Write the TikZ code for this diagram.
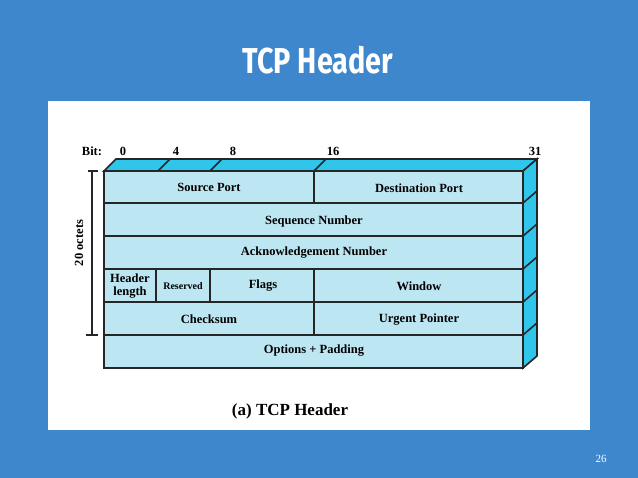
\documentclass[tikz,border=0pt]{standalone}
\usepackage{fontspec}
\setmainfont{Liberation Serif}
\newfontfamily\titlefont{Fira Sans}
\definecolor{bg}{HTML}{3F87CC}
\definecolor{frontc}{HTML}{BDE6F3}
\definecolor{sidec}{HTML}{30C5EA}
\begin{document}
\begin{tikzpicture}[x=1pt,y=-1pt,
  lbl/.style={font=\bfseries\fontsize{12.5}{13}\selectfont},
  edge/.style={draw=black!85,line width=1.6pt}]
\useasboundingbox (0,0) rectangle (638,478);
\fill[bg] (0,0) rectangle (638,478);
\fill[white] (48,101) rectangle (590,430);
\node[font=\titlefont\bfseries\fontsize{36}{38}\selectfont,text=white,xscale=0.8] (title) at (318,60) {TCP Header};
\node[font=\fontsize{11}{12}\selectfont,text=white] (pg) at (601,459) {26};
% top and side faces
\filldraw[fill=sidec,edge] (104,171) -- (116,159) -- (537,159) -- (523,171) -- cycle;
\filldraw[fill=sidec,edge] (523,171) -- (537,159) -- (537,356) -- (523,368) -- cycle;
\foreach \x in {158,210,314} \draw[edge] (\x,171) -- (\x+12,159);
\foreach \y in {203,236,269,302,335} \draw[edge] (523,\y) -- (537,\y-12);
% front
\filldraw[fill=frontc,edge] (104,171) rectangle (523,368);
\foreach \y in {203,236,269,302,335} \draw[edge] (104,\y) -- (523,\y);
\draw[edge] (314,171) -- (314,203);
\draw[edge] (314,269) -- (314,335);
\draw[edge] (156,269) -- (156,302);
\draw[edge] (210,269) -- (210,302);
% labels
\node[lbl] (sp) at (209,187) {Source Port};
\node[lbl] (dp) at (419,188) {Destination Port};
\node[lbl] (sn) at (314,221) {Sequence Number};
\node[lbl] (an) at (314,253) {Acknowledgement Number};
\node[align=center,font=\bfseries\fontsize{12.5}{13}\selectfont] (hl) at (130,286) {Header\\length};
\node[font=\bfseries\fontsize{10}{11}\selectfont] (rs) at (183,286) {Reserved};
\node[lbl] (fl) at (263,286) {Flags};
\node[lbl] (wi) at (419,286) {Window};
\node[lbl] (cs) at (209,319) {Checksum};
\node[lbl] (up) at (419,320) {Urgent Pointer};
\node[lbl] (op) at (314,351) {Options + Padding};
% bits
\node[lbl] (bit) at (92,151) {Bit:};
\foreach \x/\t in {123/0,176/4,233/8,333/16,535/31} \node[lbl] at (\x,151) {\t};
% bracket
\draw[black!85,line width=1.4pt] (92,171) -- (92,335);
\draw[black!85,line width=1.4pt] (88,171) -- (98,171);
\draw[black!85,line width=1.4pt] (86,335) -- (98,335);
\node[lbl,rotate=90] (oct) at (79,243) {20 octets};
\node[font=\bfseries\fontsize{17}{19}\selectfont] (cap) at (290,411) {(a) TCP Header};
\end{tikzpicture}
\end{document}
